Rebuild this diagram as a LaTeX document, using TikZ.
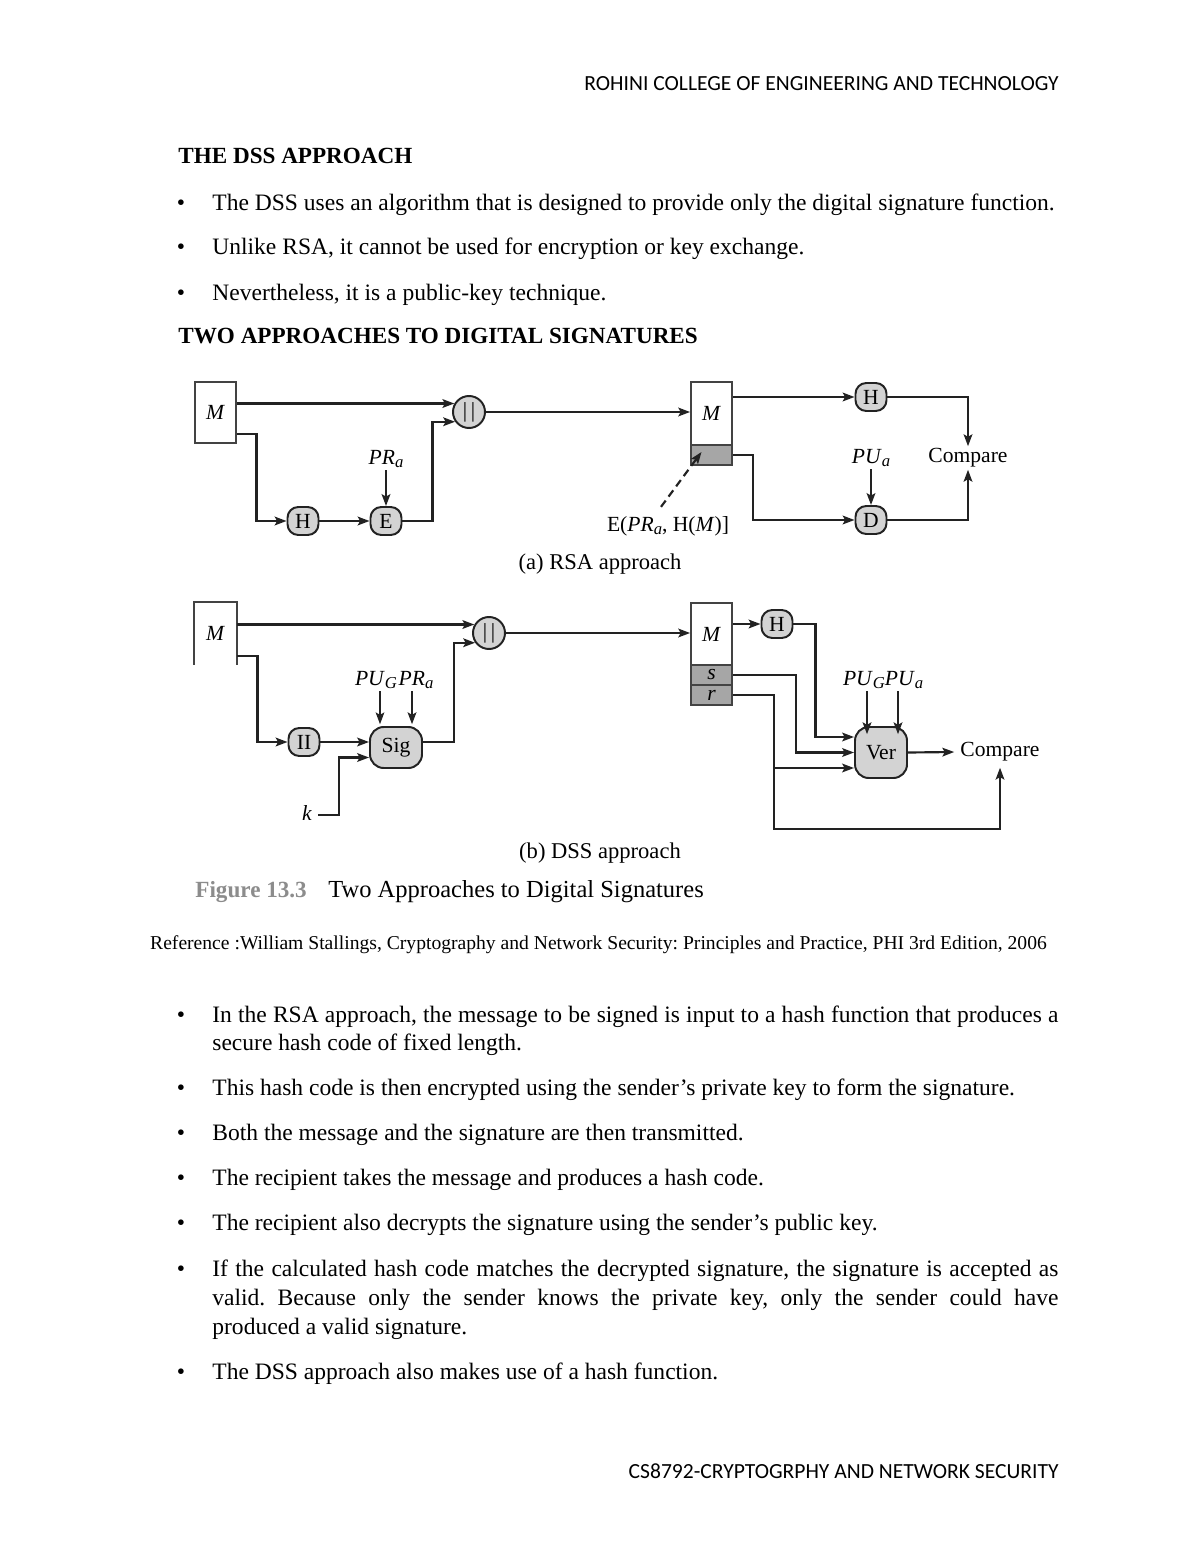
\documentclass[tikz,border=0pt]{standalone}
\usepackage{fontspec}
\setmainfont{Liberation Serif}
\newfontfamily\calib{Carlito}
\usetikzlibrary{arrows.meta,calc}
\definecolor{opgray}{HTML}{D3D3D3}
\definecolor{siggray}{HTML}{A6A6A6}
\definecolor{inkc}{HTML}{222222}
\definecolor{figgray}{HTML}{8C8C8C}
\newcommand\subsc[1]{\raisebox{-0.35ex}{\fontsize{8.5}{9}\selectfont\textit{#1}}}
\newcommand\ksub[2]{\textit{#1}\subsc{#2}}
\frenchspacing
\tikzset{
 ln/.style={draw=inkc, line width=1.1pt},
 arr/.style={ln, -{Stealth[length=6pt,width=4.4pt,inset=1.2pt]}},
 thinarr/.style={arr, line width=0.7pt},
 gate/.style={draw=inkc, line width=1pt, fill=opgray, rounded corners=5.5pt, minimum width=31*0.51pt, minimum height=28*0.51pt, inner sep=0pt, font=\fontsize{11}{12}\selectfont},
 bigop/.style={gate, minimum width=52*0.51pt, minimum height=41*0.51pt, rounded corners=7pt},
 cat/.style={circle, draw=inkc, line width=1pt, fill=opgray, minimum size=32*0.51pt, inner sep=0pt, font=\fontsize{11}{12}\selectfont},
 msgbox/.style={draw=inkc!85, line width=0.9pt, fill=white, minimum width=41*0.51pt, inner sep=0pt, font=\fontsize{11}{12}\selectfont},
 sigpart/.style={msgbox, fill=siggray, minimum height=20*0.51pt},
 lbl/.style={inner sep=1pt, font=\fontsize{11}{12}\selectfont},
 capt/.style={inner sep=0pt, font=\fontsize{11.5}{14}\selectfont},
 body/.style={anchor=base west, inner sep=0pt, font=\fontsize{12}{14}\selectfont},
 bul/.style={anchor=base, inner sep=0pt, font=\fontsize{12}{14}\selectfont},
 hd/.style={body, font=\fontsize{11.8}{14}\selectfont\bfseries},
 calibt/.style={anchor=base east, inner sep=0pt, font=\calib\fontsize{11}{13}\selectfont},
}
\begin{document}
\begin{tikzpicture}[x=0.51pt,y=-0.51pt]
\path[use as bounding box, fill=white] (0,0) rectangle (1200,1553);

% ---------- page text (top) ----------
\node[calibt] (hdr) at (1059,91) {ROHINI COLLEGE OF ENGINEERING AND TECHNOLOGY};
\node[hd] (h1) at (178,164) {THE DSS APPROACH};
\node[bul] (b1) at (181,211) {•};
\node[body] (t1) at (212,211) {The DSS uses an algorithm that is designed to provide only the digital signature function.};
\node[bul] (b2) at (181,255) {•};
\node[body] (t2) at (212,255) {Unlike RSA, it cannot be used for encryption or key exchange.};
\node[bul] (b3) at (181,300) {•};
\node[body] (t3) at (212,300) {Nevertheless, it is a public-key technique.};
\node[hd] (h2) at (178,343) {TWO APPROACHES TO DIGITAL SIGNATURES};

% ---------- (a) RSA approach ----------
\node[msgbox, minimum height=61*0.51pt] (M1) at (215.5,412.5) {\textit{M}};
\node[gate] (H1) at (303,521) {H};
\node[gate] (E1) at (386,521) {E};
\node[cat] (C1) at (469,412) {|\,|};
\node[lbl] (PR1) at (386,459) {\ksub{PR}{a}};
\draw[arr] (PR1.south) -- (E1.north);
\draw[arr] (M1.east |- C1.150) -- (C1.150);
\draw[arr] ($(M1.south east)+(0,-10)$) -| ($(H1.west)+(-30,0)$) -- (H1.west);
\draw[arr] (H1.east) -- (E1.west);
\draw[arr] (E1.east) -- ++(30,0) |- (C1.215);

\node[msgbox, minimum height=63*0.51pt] (M2) at (711.5,413.5) {\textit{M}};
\node[sigpart] (S2) at (711.5,455) {};
\draw[arr] (C1.east) -- (C1.east -| M2.west);
\node[gate] (H2) at (871,397) {H};
\node[gate] (D2) at (871,520) {D};
\node[lbl] (CMP1) at (968,458) {Compare};
\node[lbl] (PU1) at (871,458) {\ksub{PU}{a}};
\draw[arr] (M2.east |- H2.west) -- (H2.west);
\draw[arr] (H2.east) -| (CMP1.north);
\draw[arr] (S2.east) -- ++(20,0) |- (D2.west);
\draw[arr] (PU1.south) -- (D2.north);
\draw[arr] (D2.east) -| (CMP1.south);
\node[lbl] (EL) at (668,526) {E(\ksub{PR}{a}, H(\textit{M})]};
\draw[arr, dash pattern=on 4pt off 2.5pt] ($(EL.north)+(-7,-7)$) -- ($(S2.center)+(-10,-3)$);
\node[capt] (capA) at (600,564) {(a) RSA approach};

% ---------- (b) DSS approach ----------
\node[msgbox, draw=none, minimum height=61*0.51pt] (M3) at (215.5,633.5) {\textit{M}};
\draw[draw=inkc!85, line width=0.9pt] (M3.south west) -- (M3.north west) -- (M3.north east) -- (M3.south east);
\node[cat] (C2) at (489,633) {|\,|};
\node[gate] (I3) at (304,742) {II};
\node[bigop] (Sig) at (396,747.5) {Sig};
\node[lbl] (PUG1) at (376,680) {\ksub{PU}{G}};
\node[lbl] (PRa2) at (416,680) {\ksub{PR}{a}};
\node[lbl] (K3) at (307,813) {\textit{k}};
\draw[arr] (M3.east |- C2.150) -- (C2.150);
\draw[arr] ($(M3.south east)+(0,-9)$) -| ($(I3.west)+(-30,0)$) -- (I3.west);
\draw[arr] (I3.east) -- (I3.east -| Sig.west);
\draw[thinarr] ($(PUG1.south)+(4,0)$) -- ($(PUG1.south -| Sig.north)+(-16,33)$);
\draw[arr] ($(PRa2.south)+(-4,0)$) -- ($(PRa2.south -| Sig.north)+(16,33)$);
\draw[arr] ($(K3.east)+(4,2)$) -| ($(Sig.west)+(-30,10)$) -- ($(Sig.west)+(0,10)$);
\draw[arr] (Sig.east |- I3.east) -- ++(31,0) |- (C2.215);

\node[msgbox, minimum height=62*0.51pt] (M4) at (711.5,634) {\textit{M}};
\node[sigpart] (S4) at (711.5,675) {\textit{s}};
\node[sigpart] (R4) at (711.5,695) {\textit{r}};
\draw[arr] (C2.east) -- (C2.east -| M4.west);
\node[gate] (H4) at (777,624) {H};
\node[bigop, minimum height=51*0.51pt] (Ver) at (881,752.5) {Ver};
\node[lbl, inner sep=3pt] (CMP2) at (1000,752) {Compare};
\node[lbl] (PUG2) at (864,680) {\ksub{PU}{G}};
\node[lbl] (PUa2) at (904,680) {\ksub{PU}{a}};
\draw[arr] (M4.east |- H4.west) -- (H4.west);
\draw[arr] (H4.east) -- ++(22,0) |- ($(Ver.west)+(0,-15.5)$);
\draw[arr] (S4.east) -- ++(63,0) |- (Ver.west);
\draw[arr] (R4.east) -- ++(41,0) |- ($(Ver.west)+(0,15.5)$);
\draw[arr] ($(R4.east)+(41,0)$) -- ++(0,134) -| (CMP2.south);
\draw[arr] ($(PUG2.south)+(3,0)$) -- ($(PUG2.south)+(3,43)$);
\draw[arr] ($(PUa2.south)+(-6,0)$) -- ($(PUa2.south)+(-6,43)$);
\draw[arr] (Ver.east) -- (CMP2.west);
\node[capt] (capB) at (600,853) {(b) DSS approach};

\node[anchor=base west, inner sep=0pt, text=figgray, font=\fontsize{11.8}{14}\selectfont\bfseries] (fig) at (195,897) {Figure 13.3};
\node[anchor=base west, inner sep=0pt, font=\fontsize{12.5}{14}\selectfont] (figt) at (328,897) {Two Approaches to Digital Signatures};
\node[anchor=base, inner sep=0pt, font=\fontsize{10}{13}\selectfont] (ref) at (598.5,949) {Reference :William Stallings, Cryptography and Network Security: Principles and Practice, PHI 3rd Edition, 2006};

% ---------- page text (bottom) ----------
\node[bul] (b4) at (181,1022) {•};
\node[body] (t4a) at (212,1022) {\makebox[431.5pt][s]{In the RSA approach, the message to be signed is input to a hash function that produces a}};
\node[body] (t4b) at (212,1050) {secure hash code of fixed length.};
\node[bul] (b5) at (181,1095) {•};
\node[body] (t5) at (212,1095) {This hash code is then encrypted using the sender’s private key to form the signature.};
\node[bul] (b6) at (181,1140) {•};
\node[body] (t6) at (212,1140) {Both the message and the signature are then transmitted.};
\node[bul] (b7) at (181,1185) {•};
\node[body] (t7) at (212,1185) {The recipient takes the message and produces a hash code.};
\node[bul] (b8) at (181,1230) {•};
\node[body] (t8) at (212,1230) {The recipient also decrypts the signature using the sender’s public key.};
\node[bul] (b9) at (181,1276) {•};
\node[body] (t9a) at (212,1276) {\makebox[431.5pt][s]{If the calculated hash code matches the decrypted signature, the signature is accepted as}};
\node[body] (t9b) at (212,1305) {\makebox[431.5pt][s]{valid. Because only the sender knows the private key, only the sender could have}};
\node[body] (t9c) at (212,1334) {produced a valid signature.};
\node[bul] (b10) at (181,1379) {•};
\node[body] (t10) at (212,1379) {The DSS approach also makes use of a hash function.};

\node[calibt] (ftr) at (1059,1478) {CS8792-CRYPTOGRPHY AND NETWORK SECURITY};
\end{tikzpicture}
\end{document}
